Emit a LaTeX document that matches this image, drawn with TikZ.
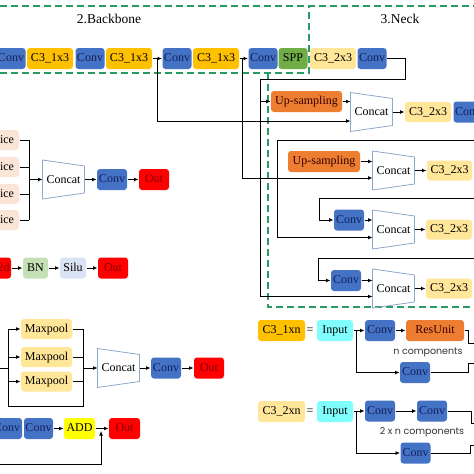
\documentclass[tikz,border=0pt]{standalone}
\usepackage{fontspec}
\setmainfont{Liberation Serif}
\newfontfamily\compfont{Poppins}
\usetikzlibrary{arrows.meta, calc}

\definecolor{convc}{HTML}{4472C4}
\definecolor{convt}{HTML}{14205A}
\definecolor{cthree}{HTML}{FFC000}
\definecolor{cfour}{HTML}{FFE699}
\definecolor{sppc}{HTML}{70AD47}
\definecolor{upc}{HTML}{ED7D31}
\definecolor{outc}{HTML}{FF0000}
\definecolor{outt}{HTML}{800000}
\definecolor{slicec}{HTML}{FBE5D6}
\definecolor{bnc}{HTML}{C5E0B4}
\definecolor{siluc}{HTML}{DAE3F3}
\definecolor{addc}{HTML}{FFFF00}
\definecolor{inc}{HTML}{80FFFF}
\definecolor{catc}{HTML}{8EA9C8}
\definecolor{zonec}{RGB}{40,155,100}

% Concat block: name, centre
\newcommand{\concatnode}[2]{%
  \node[catbox] (#1) at (#2) {Concat};
  \draw[catline] (#1.north west) -- ([yshift=-6pt]#1.north east)
    -- ([yshift=6pt]#1.south east) -- (#1.south west) -- cycle;}

\begin{document}
\begin{tikzpicture}[x=1pt, y=-1pt, line width=1pt,
  box/.style={rounded corners=3pt, inner sep=0pt, minimum height=21pt,
    text height=8.5pt, text depth=2.5pt, font=\fontsize{12}{12}\selectfont},
  conv/.style={box, fill=convc, text=convt, minimum width=29pt},
  cone/.style={box, fill=cthree, minimum width=46pt},
  ctwo/.style={box, fill=cfour, minimum width=46pt},
  upbox/.style={box, fill=upc, text=black!80!red, minimum width=71pt},
  outbox/.style={box, fill=outc, text=outt, minimum width=30pt},
  catbox/.style={inner sep=0pt, minimum width=41pt, minimum height=38pt,
    font=\fontsize{12}{12}\selectfont},
  catline/.style={draw=catc, line width=0.8pt},
  arr/.style={-{Latex[length=4.5pt, width=4pt]}},
  zone/.style={draw=zonec, dash pattern=on 7pt off 4pt, line width=1.1pt},
  comp/.style={font=\compfont\fontsize{9.5}{10}\selectfont, text=black!80},
]
  \useasboundingbox (0,0) rectangle (474,474);
  \clip (0,0) rectangle (474,474);

  % zones
  \draw[zone] (0,6) -- (474,6);
  \draw[zone] (0,73) -- (309,73) -- (309,6);
  \draw[zone] (268,73) -- (268,307) -- (474,307);
  \node[font=\fontsize{13.5}{14}\selectfont] at (109,19) {2.Backbone};
  \node[font=\fontsize{13.5}{14}\selectfont] at (400,19) {3.Neck};

  % backbone
  \node[conv] (bconva) at (11,58.5) {Conv};
  \node[cone] (bcona) at (50,58.5) {C3\_1x3};
  \node[conv] (bconvb) at (90,58.5) {Conv};
  \node[cone] (bconb) at (129,58.5) {C3\_1x3};
  \node[conv] (bconvc) at (177,58.5) {Conv};
  \node[cone] (bconc) at (216,58.5) {C3\_1x3};
  \node[conv] (bconvd) at (263,58.5) {Conv};
  \node[box, fill=sppc, minimum width=29pt] (bspp) at (293,58.5) {SPP};
  \node[ctwo] (ntwoa) at (333,58.5) {C3\_2x3};
  \node[conv] (nconva) at (372,58.5) {Conv};
  \draw[arr] (bconb) -- (bconvc);
  \draw[arr] (bconc) -- (bconvd);

  % neck
  \node[upbox] (upa) at (306.5,101.5) {Up-sampling};
  \concatnode{cca}{371.5,112}
  \node[ctwo, minimum height=20pt] (ntwob) at (428,112) {C3\_2x3};
  \node[conv] (nconvb) at (468,112) {Conv};
  \node[upbox, minimum width=72pt] (upb) at (324,161.5) {Up-sampling};
  \concatnode{ccb}{393.5,170.5}
  \node[ctwo, minimum width=45pt, minimum height=20pt] (ntwoc) at (449.5,170.5) {C3\_2x3};
  \node[conv, minimum width=30pt] (nconvc) at (349,220) {Conv};
  \concatnode{ccc}{393.5,229.5}
  \node[ctwo, minimum height=20pt] (ntwod) at (449,229.5) {C3\_2x3};
  \node[conv, minimum width=30pt] (nconvd) at (346,280.5) {Conv};
  \concatnode{ccd}{393.5,288.5}
  \node[ctwo, minimum height=20pt] (ntwoe) at (449,288.5) {C3\_2x3};

  \coordinate (ka) at (157,58.5);
  \coordinate (kb) at (242,58.5);
  \coordinate (kc) at (260,79);
  \draw[arr] (ka) |- ($(cca.west)+(0,9)$);
  \draw[arr] (kb) |- ($(ccb.west)+(0,7.5)$);
  \draw[arr] (nconva.east) -| (405,79) -- (kc) |- ($(ccd.west)+(0,8)$);
  \draw[arr] (kc |- upa.west) -- (upa.west);
  \draw[arr] (upa) -- (upa -| cca.west);
  \draw[arr] (cca.east) -- (ntwob.west);
  \draw[arr] (upb) -- (upb -| ccb.west);
  \draw[arr] (ccb.east) -- (ntwoc.west);
  \draw[arr] (480,140) -| (277,237.5) -- (277,237.5 -| ccc.west);
  \draw[arr] (480,198) -| (319,220) -- (nconvc.west);
  \draw[arr] (nconvc) -- (nconvc -| ccc.west);
  \draw[arr] (ccc.east) -- (ntwod.west);
  \draw[arr] (480,258) -| (318,280.5) -- (nconvd.west);
  \draw[arr] (nconvd) -- (nconvd -| ccd.west);
  \draw[arr] (ccd.east) -- (ntwoe.west);

  % focus
  \foreach \y [count=\i] in {140,167,194,220} {
    \node[box, fill=slicec, minimum width=34pt, minimum height=20pt] (sl\i) at (2,\y) {Slice};
    \draw (sl\i.east) -- (29,\y);
  }
  \draw (29,140) -- (29,220);
  \concatnode{ccf}{63.5,179.5}
  \node[conv, minimum width=30pt] (fconv) at (112,179.5) {Conv};
  \node[outbox] (fout) at (154,179.5) {Out};
  \draw[arr] (29,179.5) -- (ccf.west);
  \draw[arr] (ccf.east) -- (fconv);
  \draw[arr] (fconv) -- (fout);

  % conv block
  \node[box, fill=outc, text=outt, minimum width=41pt] (cconv) at (-9.5,268) {Conv2d};
  \node[box, fill=bnc, minimum width=25pt] (bn) at (35.5,268) {BN};
  \node[box, fill=siluc, minimum width=26pt] (silu) at (73,268) {Silu};
  \node[outbox] (cout) at (113,268) {Out};
  \draw[arr] (cconv) -- (bn);
  \draw[arr] (bn) -- (silu);
  \draw[arr] (silu) -- (cout);

  % spp
  \foreach \y [count=\i] in {329,357,381.5} {
    \node[box, fill=cfour, minimum width=51pt, minimum height=20pt] (mp\i) at (46.5,\y) {Maxpool};
    \draw[arr] (8,\y) -- (mp\i.west);
    \draw (mp\i.east) -- (83,\y);
  }
  \draw (-5,368) -- (8,368);
  \draw (8,329) -- (8,406) -- (83,406) -- (83,329);
  \concatnode{ccs}{118.5,368}
  \node[conv, minimum width=30pt] (sconv) at (166,368) {Conv};
  \node[outbox] (sout) at (209,368) {Out};
  \draw[arr] (83,368) -- (ccs.west);
  \draw[arr] (ccs.east) -- (sconv);
  \draw[arr] (sconv) -- (sout);

  % res unit
  \node[conv, minimum width=30pt] (rconva) at (7,428.5) {Conv};
  \node[conv] (rconvb) at (38.5,428.5) {Conv};
  \node[box, fill=addc, minimum width=31pt] (radd) at (79.5,428.5) {ADD};
  \node[outbox, minimum width=31pt] (rout) at (124.5,428.5) {Out};
  \draw[arr] (rconvb) -- (radd);
  \draw[arr] (radd) -- (rout);
  \draw[arr] (-5,464) -| (101,431);

  % c3 legend
  \node[box, fill=cthree, minimum width=47pt] (lone) at (281.5,330.5) {C3\_1xn};
  \node[font=\fontsize{12}{12}\selectfont] (eqa) at (310,330.5) {=};
  \node[box, fill=inc, minimum width=36pt] (ina) at (335,330.5) {Input};
  \node[conv, minimum width=30pt] (lconva) at (380,330.5) {Conv};
  \node[upbox, minimum width=58pt] (lres) at (435,330.5) {ResUnit};
  \node[comp] at (428,352) {n components};
  \node[conv, minimum width=30pt] (lconvb) at (415,372.5) {Conv};
  \coordinate (ja) at (356,330.5);
  \draw[arr] (ina) -- (lconva);
  \draw[arr] (lconva) -- (lres);
  \draw[arr] (ja) |- (lconvb.west);
  \draw[arr] (lres.east) -| (468,343) -- (480,343);
  \draw[arr] (lconvb.east) -| (468,363) -- (480,363);

  \node[box, fill=cfour, minimum width=47pt] (ltwo) at (281.5,411.5) {C3\_2xn};
  \node[font=\fontsize{12}{12}\selectfont] (eqb) at (310,411.5) {=};
  \node[box, fill=inc, minimum width=36pt] (inb) at (335,411.5) {Input};
  \node[conv, minimum width=30pt] (lconvc) at (380,411) {Conv};
  \node[conv, minimum width=30pt] (lconvd) at (432,411) {Conv};
  \node[comp] at (422,432) {2 x n components};
  \node[conv, minimum width=30pt] (lconve) at (415.5,453) {Conv};
  \coordinate (jb) at (356,411);
  \draw[arr] (inb.east |- jb) -- (lconvc);
  \draw[arr] (lconvc) -- (lconvd);
  \draw[arr] (jb) |- (lconve.west);
  \draw[arr] (lconvd.east) -| (471,423) -- (480,423);
  \draw[arr] (lconve.east) -| (470,445) -- (480,445);
\end{tikzpicture}
\end{document}
